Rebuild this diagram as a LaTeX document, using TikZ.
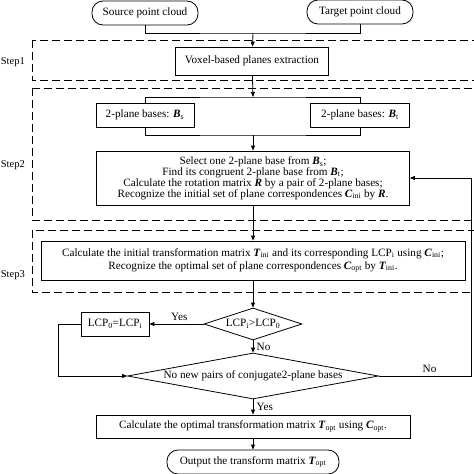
\documentclass[tikz,border=0pt]{standalone}
\usepackage{fontspec}
\setmainfont{Liberation Serif}
\usepackage{tikz}
\usetikzlibrary{shapes.geometric,arrows.meta,positioning}

\newcommand{\bv}[1]{\textbf{\textit{#1}}}
\newcommand{\sub}[1]{\textsubscript{#1}}

\begin{document}
\begin{tikzpicture}[x=1pt, y=-1pt, line width=0.8pt,
    font=\fontsize{11.2}{10.9}\selectfont,
    box/.style={draw, rectangle, align=center, inner sep=1pt},
    term/.style={draw, rectangle, rounded corners=11pt, inner sep=1pt},
    decision/.style={draw, diamond, inner sep=0pt},
    stepframe/.style={draw, dashed, dash pattern=on 8pt off 4pt, line width=0.9pt},
    steplabel/.style={anchor=west, inner sep=0pt, font=\fontsize{10.5}{11}\selectfont},
    >={Triangle[length=5pt, width=4pt]}]

    \useasboundingbox (0,0) rectangle (474,474);

    % dashed step frames
    \draw[stepframe] (32,40) rectangle (480,80);
    \draw[stepframe] (32,88) rectangle (480,220);
    \draw[stepframe] (32,230) rectangle (480,292);
    \node[steplabel] (s1) at (0.5,62) {Step1};
    \node[steplabel] (s2) at (0.5,165) {Step2};
    \node[steplabel] (s3) at (0.5,275) {Step3};

    % nodes
    \node[term, minimum width=106pt, minimum height=24pt] (src) at (145,13) {Source point cloud};
    \node[term, minimum width=106pt, minimum height=24pt] (tgt) at (360,12) {Target point cloud};
    \node[box, minimum width=153pt, minimum height=28pt] (vox) at (252,61) {Voxel-based planes extraction};
    \node[box, minimum width=98pt, minimum height=24pt] (bs) at (145,115) {2-plane bases: \bv{B}\sub{s}};
    \node[box, minimum width=99pt, minimum height=24pt] (bt) at (360,115) {2-plane bases: \bv{B}\sub{t}};
    \node[box, minimum width=313pt, minimum height=54pt] (sel) at (253,178) {Select one 2-plane base from \bv{B}\sub{s};\\
        Find its congruent 2-plane base from \bv{B}\sub{t};\\
        Calculate the rotation matrix \bv{R} by a pair of 2-plane bases;\\
        Recognize the initial set of plane correspondences \bv{C}\sub{ini} by \bv{R}.};
    \node[box, minimum width=424pt, minimum height=39pt, font=\fontsize{11.2}{13}\selectfont] (ini) at (253,260.5) {Calculate the initial transformation matrix \bv{T}\sub{ini} and its corresponding LCP\sub{i} using \bv{C}\sub{ini};\\
        Recognize the optimal set of plane correspondences \bv{C}\sub{opt} by \bv{T}\sub{ini}.};
    \node[decision, aspect=3, minimum width=98pt, minimum height=32pt] (cmp) at (253,324) {LCP\sub{i}>LCP\sub{0}};
    \node[box, minimum width=68pt, minimum height=24pt] (lcp) at (115,324) {LCP\sub{0}=LCP\sub{i}};
    \node[decision, aspect=5.5, minimum width=251pt, minimum height=46pt] (new) at (253,376) {No new pairs of conjugate2-plane bases};
    \node[box, minimum width=314pt, minimum height=23pt] (opt) at (253,426.5) {Calculate the optimal transformation matrix \bv{T}\sub{opt} using \bv{C}\sub{opt}.};
    \node[term, minimum width=172pt, minimum height=24pt] (out) at (253,462) {Output the transform matrix \bv{T}\sub{opt}};

    % bus points
    \coordinate (j1) at (253,33);
    \coordinate (j2) at (253,97);
    \coordinate (j3) at (253,135);
    \coordinate (l1) at (58,324);
    \coordinate (r1) at (471,376);

    \draw (src.south) |- (j1) -| (tgt.south);
    \draw (bs.north) |- (j2) -| (bt.north);
    \draw (bs.south) |- (j3) -| (bt.south);

    \path[->]
        (j1) edge (vox)
        (vox) edge (j2)
        (j3) edge (sel)
        (sel) edge (ini)
        (ini) edge (cmp)
        (cmp) edge node[above, pos=0.45] {Yes} (lcp)
        (cmp) edge node[right] {No} (new)
        (new) edge node[right] {Yes} (opt)
        (opt) edge (out);

    \draw[->] (lcp.west) -- (l1) |- (new.west);
    \draw[->] (new.east) -- node[above, pos=0.55] {No} (r1) |- (sel.east);

\end{tikzpicture}
\end{document}
